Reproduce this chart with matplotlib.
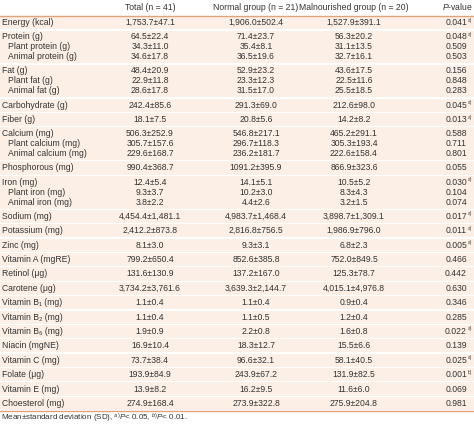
import matplotlib
matplotlib.use("Agg")
import matplotlib.pyplot as plt
from matplotlib.patches import Rectangle

plt.rcParams['font.family'] = ['Liberation Sans', 'DejaVu Sans']
plt.rcParams['mathtext.fontset'] = 'custom'
plt.rcParams['mathtext.rm'] = 'Liberation Sans'
plt.rcParams['mathtext.it'] = 'Liberation Sans:italic'

# groups of rows: (label, total, normal, malnourished, p, mark)
groups = [
    [("Energy (kcal)", "1,753.7±47.1", "1,906.0±502.4", "1,527.9±391.1", "0.041", "a")],
    [("Protein (g)", "64.5±22.4", "71.4±23.7", "56.3±20.2", "0.048", "a"),
     ("Plant protein (g)", "34.3±11.0", "35.4±8.1", "31.1±13.5", "0.509", ""),
     ("Animal protein (g)", "34.6±17.8", "36.5±19.6", "32.7±16.1", "0.503", "")],
    [("Fat (g)", "48.4±20.9", "52.9±23.2", "43.6±17.5", "0.156", ""),
     ("Plant fat (g)", "22.9±11.8", "23.3±12.3", "22.5±11.6", "0.848", ""),
     ("Animal fat (g)", "28.6±17.8", "31.5±17.0", "25.5±18.5", "0.283", "")],
    [("Carbohydrate (g)", "242.4±85.6", "291.3±69.0", "212.6±98.0", "0.045", "a")],
    [("Fiber (g)", "18.1±7.5", "20.8±5.6", "14.2±8.2", "0.013", "a")],
    [("Calcium (mg)", "506.3±252.9", "546.8±217.1", "465.2±291.1", "0.588", ""),
     ("Plant calcium (mg)", "305.7±157.6", "296.7±118.3", "305.3±193.4", "0.711", ""),
     ("Animal calcium (mg)", "229.6±168.7", "236.2±181.7", "222.6±158.4", "0.801", "")],
    [("Phosphorous (mg)", "990.4±368.7", "1091.2±395.9", "866.9±323.6", "0.055", "")],
    [("Iron (mg)", "12.4±5.4", "14.1±5.1", "10.5±5.2", "0.030", "a"),
     ("Plant iron (mg)", "9.3±3.7", "10.2±3.0", "8.3±4.3", "0.104", ""),
     ("Animal iron (mg)", "3.8±2.2", "4.4±2.6", "3.2±1.5", "0.074", "")],
    [("Sodium (mg)", "4,454.4±1,481.1", "4,983.7±1,468.4", "3,898.7±1,309.1", "0.017", "a")],
    [("Potassium (mg)", "2,412.2±873.8", "2,816.8±756.5", "1,986.9±796.0", "0.011", "a")],
    [("Zinc (mg)", "8.1±3.0", "9.3±3.1", "6.8±2.3", "0.005", "a")],
    [("Vitamin A (mgRE)", "799.2±650.4", "852.6±385.8", "752.0±849.5", "0.466", "")],
    [("Retinol (μg)", "131.6±130.9", "137.2±167.0", "125.3±78.7", "0.442", "")],
    [("Carotene (μg)", "3,734.2±3,761.6", "3,639.3±2,144.7", "4,015.1±4,976.8", "0.630", "")],
    [("Vitamin B₁ (mg)", "1.1±0.4", "1.1±0.4", "0.9±0.4", "0.346", "")],
    [("Vitamin B₂ (mg)", "1.1±0.4", "1.1±0.5", "1.2±0.4", "0.285", "")],
    [("Vitamin B₆ (mg)", "1.9±0.9", "2.2±0.8", "1.6±0.8", "0.022", "a")],
    [("Niacin (mgNE)", "16.9±10.4", "18.3±12.7", "15.5±6.6", "0.139", "")],
    [("Vitamin C (mg)", "73.7±38.4", "96.6±32.1", "58.1±40.5", "0.025", "a")],
    [("Folate (μg)", "193.9±84.9", "243.9±67.2", "131.9±82.5", "0.001", "b")],
    [("Vitamin E (mg)", "13.9±8.2", "16.2±9.5", "11.6±6.0", "0.069", "")],
    [("Choesterol (mg)", "274.9±168.4", "273.9±322.8", "275.9±204.8", "0.981", "")],
]
headers = ["Total (n = 41)", "Normal group (n = 21)", "Malnourished group (n = 20)"]

W, H = 474, 424
fig = plt.figure(figsize=(W / 100, H / 100), dpi=100)
ax = fig.add_axes([0, 0, 1, 1])
ax.set_xlim(0, W)
ax.set_ylim(H, 0)
ax.axis('off')

txt = '#333333'
fill = '#fcf0e6'
line = '#e3a27a'
fs = 6.2
col_x = [150, 256, 354]

for x, h in zip(col_x, headers):
    ax.text(x, 7, h, ha='center', va='center', fontsize=fs, color=txt)
ax.text(473, 7, r'$\it{P}$-value', ha='right', va='center', fontsize=fs, color=txt)

y = 15.5
for g in groups:
    gh = 14.4 if len(g) == 1 else 34
    ax.add_patch(Rectangle((0, y + 0.6), W, gh - 1.2, color=fill, lw=0))
    if len(g) == 1:
        centers = [y + gh / 2]
    else:
        centers = [y + 7 + 10 * i for i in range(len(g))]
    for i, (row, cy) in enumerate(zip(g, centers)):
        lab, t, n, m, p, mark = row
        ax.text(2 if i == 0 else 8, cy, lab, ha='left', va='center', fontsize=fs, color=txt)
        for x, v in zip(col_x, (t, n, m)):
            ax.text(x, cy, v, ha='center', va='center', fontsize=fs, color=txt)
        ax.text(467, cy, p, ha='right', va='center', fontsize=fs, color=txt)
        if mark:
            ax.text(467.5, cy - 2.5, mark + ')', ha='left', va='center', fontsize=3.5, color=txt)
    y += gh

ax.plot([0, W], [15.5, 15.5], color=line, lw=1)
ax.plot([0, W], [y + 0.5, y + 0.5], color=line, lw=1)

ax.text(1, 418, r'Mean$\pm$standard deviation (SD), $^{a)}\it{P}$< 0.05, $^{b)}\it{P}$< 0.01.',
        ha='left', va='center', fontsize=5.8, color=txt)

fig.savefig('out.png', dpi=100, facecolor='white')
